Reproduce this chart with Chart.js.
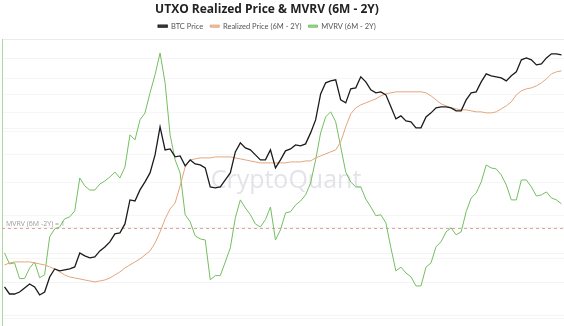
<!DOCTYPE html>
<html>
<head>
<meta charset="utf-8">
<script src="https://cdn.jsdelivr.net/npm/chart.js@4"></script>
<style>
  html, body { margin: 0; padding: 0; background: #fff; }
  #wrap { width: 564px; height: 326px; }
</style>
</head>
<body>
<div id="wrap"><canvas id="chart"></canvas></div>
<script>
const btcPrice = [
  24700, 23560, 23560, 23880, 24540, 25210, 24700, 23410, 23880, 26420,
  27880, 27510, 27690, 27880, 28260, 31050, 30430, 30020, 30230, 31470,
  32320, 33430, 35280, 35520, 37740, 44340, 44040, 47430, 50050, 53170,
  60010, 72450, 62070, 62480, 59210, 59610, 55730, 58030, 56490, 56110,
  54980, 48390, 48070, 48390, 50730, 53170, 61240, 65060, 62900, 62070,
  60010, 58030, 58030, 62070, 54980, 58030, 61660, 62480, 64190, 63760,
  64630, 69580, 75940, 90450, 97400, 98720, 99380, 86870, 85140, 93540,
  94170, 101410, 98060, 92910, 91060, 91680, 89840, 82880, 76450, 78010,
  75420, 74920, 71960, 71960, 77490, 79600, 82320, 82880, 82880, 82320,
  80690, 80690, 86870, 91060, 91680, 98060, 103480, 102090, 101410, 100720,
  98720, 102090, 104880, 113680, 115210, 113680, 109930, 110670, 115210, 118370,
  118370, 117570
];
const realizedPrice = [
  28640, 29030, 29230, 29230, 29230, 29230, 29030, 28840, 28640, 28260,
  27880, 27330, 26780, 26420, 26240, 26070, 25890, 25720, 25550, 25720,
  25890, 26240, 26780, 27330, 28070, 28640, 29230, 29820, 30640, 31470,
  33200, 35760, 39020, 41740, 43460, 48720, 55360, 58030, 58420, 58810,
  58810, 58810, 59210, 59210, 59210, 59210, 58810, 58420, 58030, 57630,
  57250, 56870, 56870, 56870, 56870, 56870, 56870, 57250, 57250, 57250,
  57630, 57630, 58810, 59610, 60420, 61240, 62070, 65500, 72450, 79070,
  82320, 84000, 85140, 86300, 87460, 89240, 90450, 91060, 91680, 91680,
  91680, 91680, 91680, 91680, 91060, 89240, 86870, 84570, 83440, 82320,
  81770, 81220, 81220, 80690, 80140, 80140, 79600, 79600, 80140, 81770,
  83440, 85720, 89840, 92300, 93540, 94170, 95450, 97400, 100050, 103480,
  104880, 105590
];
const mvrv = [
  0.903, 0.863, 0.867, 0.813, 0.813, 0.849, 0.870, 0.816, 0.826, 0.964,
  0.996, 1.004, 1.038, 1.046, 1.072, 1.226, 1.187, 1.167, 1.167, 1.196,
  1.211, 1.231, 1.256, 1.226, 1.282, 1.462, 1.432, 1.554, 1.599, 1.735,
  1.868, 2.042, 1.808, 1.462, 1.320, 1.251, 1.055, 1.025, 0.968, 0.956,
  0.952, 0.809, 0.823, 0.823, 0.870, 0.922, 1.042, 1.121, 1.085, 1.055,
  1.016, 1.004, 1.034, 1.089, 0.952, 0.992, 1.063, 1.068, 1.098, 1.116,
  1.144, 1.201, 1.320, 1.474, 1.573, 1.606, 1.542, 1.392, 1.256, 1.206,
  1.182, 1.182, 1.125, 1.089, 1.051, 1.055, 1.021, 0.922, 0.839, 0.852,
  0.832, 0.819, 0.789, 0.789, 0.852, 0.867, 0.926, 0.945, 0.984, 1.000,
  0.972, 0.984, 1.068, 1.130, 1.153, 1.206, 1.293, 1.277, 1.272, 1.241,
  1.192, 1.121, 1.121, 1.216, 1.216, 1.182, 1.139, 1.144, 1.158, 1.130,
  1.121, 1.103
];
const labels = btcPrice.map((_, i) => i);

const mvrvRefValue = 1;
const mvrvRefLabel = 'MVRV (6M -2Y) = 1';
const watermark = 'CryptoQuant';
const font = '"Open Sans", "Noto Sans", sans-serif';

// watermark + MVRV = 1 dashed reference line
const extras = {
  id: 'extras',
  afterLayout(chart) {
    // header in the original sits a bit left of the plot centre
    const dx = -16;
    if (chart.titleBlock) {
      chart.titleBlock.left += dx; chart.titleBlock.right += dx;
      chart.titleBlock.top += 2; chart.titleBlock.bottom += 2;
    }
    if (chart.legend) { chart.legend.left += dx; chart.legend.right += dx; }
  },
  beforeDatasetsDraw(chart) {
    const { ctx, chartArea, scales } = chart;
    ctx.save();
    ctx.font = '25px ' + font;
    ctx.fillStyle = 'rgba(200, 200, 214, 0.5)';
    ctx.textAlign = 'center';
    ctx.textBaseline = 'alphabetic';
    ctx.fillText(watermark, (chartArea.left + chartArea.right) / 2 + 3, (chartArea.top + chartArea.bottom) / 2 + 5);

    const y = Math.round(scales.mvrv.getPixelForValue(mvrvRefValue)) + 0.5;
    ctx.strokeStyle = '#d8a89c';
    ctx.lineWidth = 1;
    ctx.setLineDash([3, 3]);
    ctx.beginPath();
    ctx.moveTo(chartArea.left, y);
    ctx.lineTo(chartArea.right, y);
    ctx.stroke();

    ctx.font = '7px ' + font;
    ctx.fillStyle = '#9a9a9a';
    ctx.textAlign = 'left';
    ctx.fillText(mvrvRefLabel, chartArea.left + 4, y - 3);
    ctx.restore();
  }
};

new Chart(document.getElementById('chart'), {
  type: 'line',
  data: {
    labels: labels,
    datasets: [
      {
        label: 'BTC Price',
        data: btcPrice,
        yAxisID: 'price',
        borderColor: '#1b1b1b',
        backgroundColor: '#555',
        borderWidth: 1.3,
      },
      {
        label: 'Realized Price (6M - 2Y)',
        data: realizedPrice,
        yAxisID: 'price',
        borderColor: '#e4a47c',
        backgroundColor: '#f0c8ae',
        borderWidth: 1,
      },
      {
        label: 'MVRV (6M - 2Y)',
        data: mvrv,
        yAxisID: 'mvrv',
        borderColor: '#74be60',
        backgroundColor: '#a9d99f',
        borderWidth: 1,
      },
    ]
  },
  options: {
    responsive: true,
    maintainAspectRatio: false,
    animation: false,
    devicePixelRatio: 1,
    elements: {
      line: { tension: 0 },
      point: { radius: 0 }
    },
    layout: { padding: { left: 2, right: 0, top: 0, bottom: 0 } },
    plugins: {
      title: {
        display: true,
        text: 'UTXO Realized Price & MVRV (6M - 2Y)',
        color: '#222',
        font: { family: font, size: 12, weight: 'bold' },
        padding: { top: 0, bottom: 1 }
      },
      legend: {
        labels: {
          boxWidth: 9,
          boxHeight: 2,
          padding: 7,
          color: '#555',
          font: { family: 'Lato, sans-serif', size: 7.5 }
        }
      },
      tooltip: { enabled: false }
    },
    scales: {
      x: { type: 'category', display: false, offset: true },
      mvrv: {
        type: 'logarithmic',
        position: 'left',
        min: 0.67,
        max: 2.154,
        ticks: { display: false },
        grid: { color: 'rgba(0,0,0,0.045)', drawTicks: false },
        border: { color: '#a9d99f', width: 1 }
      },
      price: {
        type: 'logarithmic',
        position: 'right',
        min: 19000,
        max: 130000,
        ticks: { display: false },
        grid: { color: 'rgba(0,0,0,0.035)', drawTicks: false },
        border: { display: false }
      }
    }
  },
  plugins: [extras]
});
</script>
</body>
</html>
